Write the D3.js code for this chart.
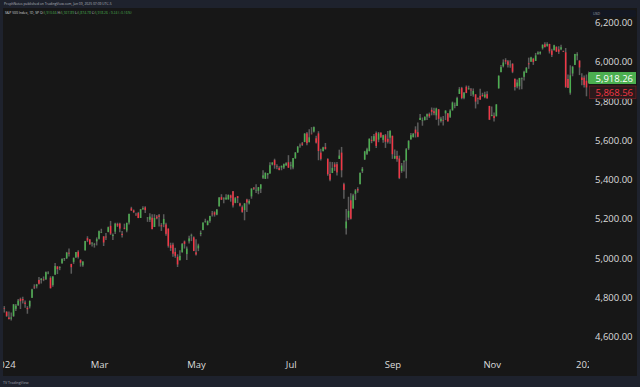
<!DOCTYPE html>
<html lang="en">

<head>
    <meta charset="UTF-8">
    <title>S&amp;P 500 Index, 1D</title>
    <script src="https://d3js.org/d3.v7.min.js"></script>
    <style>
        html, body { margin: 0; padding: 0; background: #1e222d; overflow: hidden; }
        svg { display: block; }
        text { font-family: "Open Sans", Roboto, sans-serif; }
    </style>
</head>

<body>
    <div class="chart"></div>

    <script>
        // daily bars, Jan 2024 to Jan 2025, one row per month
        const opens = [
            4745,4726,4697,4691,4704,4741,4760,4792,4791,4773,4746,4753,4797,4854,4856,4888,4888,4892,4892,4925,4899,
            4862,4916,4957,4950,4973,4995,4999,5027,4970,4980,5004,5032,4989,4963,5039,5101,5094,5074,5068,5085,
            5098,5131,5110,5109,5133,5164,5112,5134,5174,5175,5123,5154,5140,5181,5253,5242,5220,5229,5204,5248,
            5258,5204,5195,5205,5158,5211,5217,5167,5172,5171,5150,5065,5068,5031,5006,4988,5029,5084,5020,5085,5114,5105,
            5029,5049,5122,5142,5187,5168,5189,5226,5233,5221,5263,5310,5303,5298,5299,5319,5340,5281,5315,5278,5259,5244,
            5298,5278,5314,5358,5344,5342,5353,5409,5403,5424,5431,5477,5499,5467,5459,5461,5461,5473,5488,
            5471,5461,5507,5537,5572,5584,5591,5635,5590,5633,5644,5610,5635,5537,5544,5566,5505,5428,5433,5477,5478,5505,
            5537,5376,5151,5206,5294,5252,5327,5351,5376,5442,5501,5531,5545,5602,5597,5637,5603,5639,5602,5625,5607,5613,
            5623,5507,5520,5507,5443,5491,5496,5558,5604,5615,5654,5641,5703,5703,5702,5721,5733,5755,5748,5727,
            5758,5698,5702,5737,5737,5719,5752,5778,5775,5836,5866,5816,5872,5859,5858,5833,5834,5813,5826,5831,5819,5835,5775,
            5723,5725,5722,5864,5947,5977,6008,6002,5985,5989,5913,5874,5875,5914,5923,5944,5992,6000,6015,6004,
            6040,6042,6069,6089,6081,6091,6057,6058,6075,6063,6063,6053,6048,5912,5842,5940,5984,6032,6006,5920,5919,
            5903,5892,5982,5994,5911
        ]
        const highs = [
            4755,4729,4727,4722,4765,4766,4791,4798,4802,4783,4755,4784,4843,4866,4868,4903,4898,4906,4931,4932,4907,
            4907,4975,4958,4958,4999,5000,5031,5048,4970,5002,5030,5039,4994,4984,5087,5111,5097,5080,5077,5105,
            5140,5149,5111,5128,5160,5189,5125,5180,5180,5180,5137,5175,5180,5226,5261,5247,5230,5235,5250,5264,
            5264,5208,5228,5223,5223,5219,5224,5178,5223,5179,5150,5078,5078,5052,5019,5039,5077,5089,5058,5114,5124,5110,
            5096,5073,5140,5181,5200,5192,5215,5239,5238,5250,5311,5325,5309,5325,5324,5323,5342,5311,5315,5282,5268,5280,
            5302,5299,5355,5362,5376,5361,5376,5447,5436,5432,5488,5487,5506,5478,5468,5472,5481,5488,5524,
            5491,5510,5540,5571,5583,5591,5636,5642,5656,5667,5670,5623,5646,5557,5567,5586,5508,5491,5489,5488,5489,5552,
            5566,5383,5250,5312,5330,5328,5351,5361,5436,5464,5546,5562,5609,5621,5632,5644,5642,5639,5628,5632,5647,5651,
            5623,5553,5546,5522,5484,5497,5560,5601,5637,5637,5671,5690,5734,5716,5722,5736,5741,5767,5765,5766,
            5758,5720,5723,5753,5739,5758,5797,5792,5822,5871,5872,5846,5879,5878,5866,5864,5834,5818,5862,5842,5847,5850,5775,
            5772,5741,5783,5930,5983,6012,6018,6009,6008,5993,5915,5909,5918,5920,5954,5973,6021,6026,6020,6045,
            6053,6053,6089,6100,6100,6091,6066,6086,6079,6079,6086,6057,6070,5935,5982,5979,6040,6049,6007,5941,5930,
            5935,5950,6022,6000,5928
        ]
        const lows = [
            4722,4700,4687,4682,4700,4730,4756,4740,4768,4747,4716,4743,4797,4842,4845,4865,4870,4882,4888,4917,4845,
            4854,4914,4918,4938,4971,4985,4995,5008,4920,4970,5000,4998,4956,4955,5038,5081,5068,5058,5053,5064,
            5094,5127,5061,5092,5131,5117,5092,5122,5158,5131,5104,5146,5131,5171,5240,5229,5216,5203,5204,5246,
            5229,5184,5184,5146,5158,5197,5160,5138,5157,5114,5053,5036,5007,5001,4954,4988,5028,5048,4990,5074,5086,5035,
            5013,5035,5111,5143,5180,5166,5180,5211,5211,5218,5263,5296,5279,5298,5297,5287,5257,5279,5280,5263,5230,5192,
            5234,5273,5302,5346,5331,5325,5331,5403,5403,5404,5429,5472,5455,5452,5447,5447,5453,5469,5460,
            5451,5452,5507,5537,5562,5571,5590,5574,5590,5632,5640,5583,5498,5497,5544,5552,5419,5391,5433,5444,5420,5505,
            5411,5302,5120,5193,5196,5252,5295,5332,5376,5433,5501,5525,5543,5585,5594,5560,5590,5612,5587,5561,5584,5582,
            5505,5504,5490,5402,5434,5441,5406,5550,5604,5615,5614,5615,5703,5674,5702,5703,5714,5727,5727,5704,
            5675,5690,5675,5703,5696,5714,5752,5763,5775,5836,5809,5809,5840,5859,5825,5822,5762,5784,5805,5823,5814,5811,5703,
            5723,5696,5722,5864,5947,5971,5987,5971,5969,5942,5854,5865,5858,5860,5905,5944,5964,6000,5984,6004,
            6036,6036,6062,6072,6077,6042,6024,6058,6051,6040,6059,6050,5867,5866,5832,5926,5983,6008,5932,5880,5869,
            5824,5888,5960,5896,5875
        ]
        const closes = [
            4743,4705,4689,4697,4764,4757,4783,4780,4784,4766,4739,4781,4840,4850,4865,4869,4894,4891,4928,4925,4846,
            4906,4959,4943,4954,4995,4998,5027,5022,4953,5001,5030,5006,4976,4982,5087,5089,5070,5078,5070,5096,
            5137,5131,5079,5105,5157,5124,5118,5175,5165,5150,5117,5149,5179,5225,5242,5234,5218,5204,5248,5254,
            5244,5206,5211,5147,5204,5202,5210,5161,5199,5123,5062,5051,5022,5011,4967,5011,5071,5072,5048,5100,5116,5036,
            5018,5064,5128,5181,5188,5188,5214,5223,5221,5247,5308,5297,5303,5308,5321,5307,5268,5305,5306,5267,5235,5278,
            5283,5291,5354,5353,5347,5361,5375,5421,5434,5432,5473,5487,5473,5465,5448,5469,5478,5483,5460,
            5475,5509,5537,5567,5573,5577,5634,5585,5615,5631,5667,5588,5545,5505,5564,5556,5427,5399,5459,5464,5436,5522,
            5447,5347,5186,5240,5200,5319,5344,5344,5434,5455,5543,5554,5608,5597,5621,5571,5635,5617,5626,5592,5592,5648,
            5529,5520,5503,5408,5471,5496,5554,5596,5626,5633,5635,5618,5714,5703,5719,5733,5722,5745,5738,5762,
            5709,5710,5700,5751,5696,5751,5792,5780,5815,5860,5815,5842,5841,5865,5854,5851,5797,5810,5808,5824,5833,5814,5705,
            5729,5713,5783,5929,5973,5996,6001,5984,5985,5949,5871,5894,5917,5917,5949,5969,5987,6022,5999,6032,
            6047,6050,6086,6075,6090,6053,6035,6084,6051,6051,6074,6051,5872,5867,5931,5974,6040,6038,5971,5907,5882,
            5869,5942,5975,5909,5918
        ]

        const priceTicks = [4600, 4800, 5000, 5200, 5400, 5600, 5800, 6000, 6200]
        const monthBars = [0, 41, 83, 124, 168, 211, 252]
        const monthLabels = ['2024', 'Mar', 'May', 'Jul', 'Sep', 'Nov', '2025']
        const lastPrice = 5918.26
        const prevClose = 5868.56
        const legendValues = [['O', '5,910.66'], ['H', '5,927.89'], ['L', '5,874.78'], ['C', '5,918.26']]

        const width = 640, height = 387
        const green = '#4caf50', red = '#f23645'

        const svg = d3.select('.chart').append('svg')
            .attr('width', width)
            .attr('height', height)

        // panel
        svg.append('rect').attr('x', 3).attr('y', 8).attr('width', 634).attr('height', 368).attr('fill', '#171717')

        const defs = svg.append('defs')
        defs.append('clipPath').attr('id', 'plot').append('rect')
            .attr('x', 3).attr('y', 8).attr('width', 586).attr('height', 368)

        const x = d3.scaleLinear().domain([0, closes.length - 1]).range([4.3, 595.7])
        const y = d3.scaleLinear().domain([4600, 6200]).range([336.5, 22.5])

        const bars = svg.append('g').attr('clip-path', 'url(#plot)')
            .selectAll('g')
            .data(closes.map((c, i) => ({ i, o: opens[i], h: highs[i], l: lows[i], c })))
            .join('g')

        // wicks are gray, the body has the colour
        bars.append('line')
            .attr('x1', d => x(d.i)).attr('x2', d => x(d.i))
            .attr('y1', d => y(d.h)).attr('y2', d => y(d.l))
            .attr('stroke', '#5c5c5c').attr('stroke-width', 1.5)

        bars.append('rect')
            .attr('x', d => x(d.i) - 0.75)
            .attr('width', 1.5)
            .attr('y', d => y(Math.max(d.o, d.c)))
            .attr('height', d => Math.max(0.6, Math.abs(y(d.o) - y(d.c))))
            .attr('fill', d => d.c >= d.o ? green : red)

        // time axis, clipped on the outer group so the transform does not shift the clip
        const xAxis = d3.axisBottom(x)
            .tickValues(monthBars)
            .tickFormat((d, i) => monthLabels[i])
            .tickSize(0)

        svg.append('g')
            .attr('clip-path', 'url(#plot)')
            .append('g')
            .attr('transform', 'translate(0,358)')
            .call(xAxis)
            .call(g => g.select('.domain').remove())
            .selectAll('text')
            .attr('fill', '#dcdcdc')
            .style('font-size', '9.5px')
            .style('font-family', '"Open Sans", sans-serif')

        // price axis
        const yAxis = d3.axisRight(y)
            .tickValues(priceTicks)
            .tickFormat(d3.format(',.2f'))
            .tickSize(0)

        svg.append('g')
            .attr('transform', 'translate(592,0)')
            .call(yAxis)
            .call(g => g.select('.domain').remove())
            .selectAll('text')
            .attr('x', 3)
            .attr('fill', '#dcdcdc')
            .style('font-size', '9.5px')
            .style('font-family', '"Open Sans", sans-serif')

        // usd badge
        svg.append('rect').attr('x', 590).attr('y', 10).attr('width', 46).attr('height', 7).attr('rx', 1.5).attr('fill', '#131722')
        svg.append('text').attr('x', 593).attr('y', 15).attr('fill', '#9aa0a8').style('font-size', '3.6px').text('USD')

        // last price and previous close tags
        svg.append('rect').attr('x', 589).attr('y', 72).attr('width', 47).attr('height', 12).attr('fill', green)
        svg.append('text').attr('x', 595.5).attr('y', 81.5).attr('fill', '#fff').style('font-size', '9.5px').text(d3.format(',.2f')(lastPrice))

        svg.append('rect').attr('x', 589.5).attr('y', 86).attr('width', 46.5).attr('height', 12.5)
            .attr('fill', '#2a1a1c').attr('stroke', '#6e1f27').attr('stroke-width', 0.8)
        svg.append('text').attr('x', 595.5).attr('y', 95.5).attr('fill', red).style('font-size', '9.5px').text(d3.format(',.2f')(prevClose))

        // header
        svg.append('text').attr('x', 4).attr('y', 5).attr('fill', '#b2b5be').style('font-size', '3.35px')
            .text('ProphNotes published on TradingView.com, Jan 09, 2025 07:09 UTC-5')

        const legend = svg.append('text').attr('x', 5).attr('y', 13.5).style('font-size', '3.35px')
        legend.append('tspan').attr('fill', '#d1d4dc').text('S&P 500 Index, 1D, SP ')
        legendValues.forEach(v => {
            legend.append('tspan').attr('fill', '#d1d4dc').text(v[0] + ':')
            legend.append('tspan').attr('fill', green).text(v[1] + ' ')
        })
        legend.append('tspan').attr('fill', green).text('+9.24 (+0.16%)')

        // footer
        svg.append('text').attr('x', 3).attr('y', 383.5).attr('fill', '#a0a4ad').style('font-size', '3.6px')
            .text('TV TradingView')
    </script>

</body>

</html>
